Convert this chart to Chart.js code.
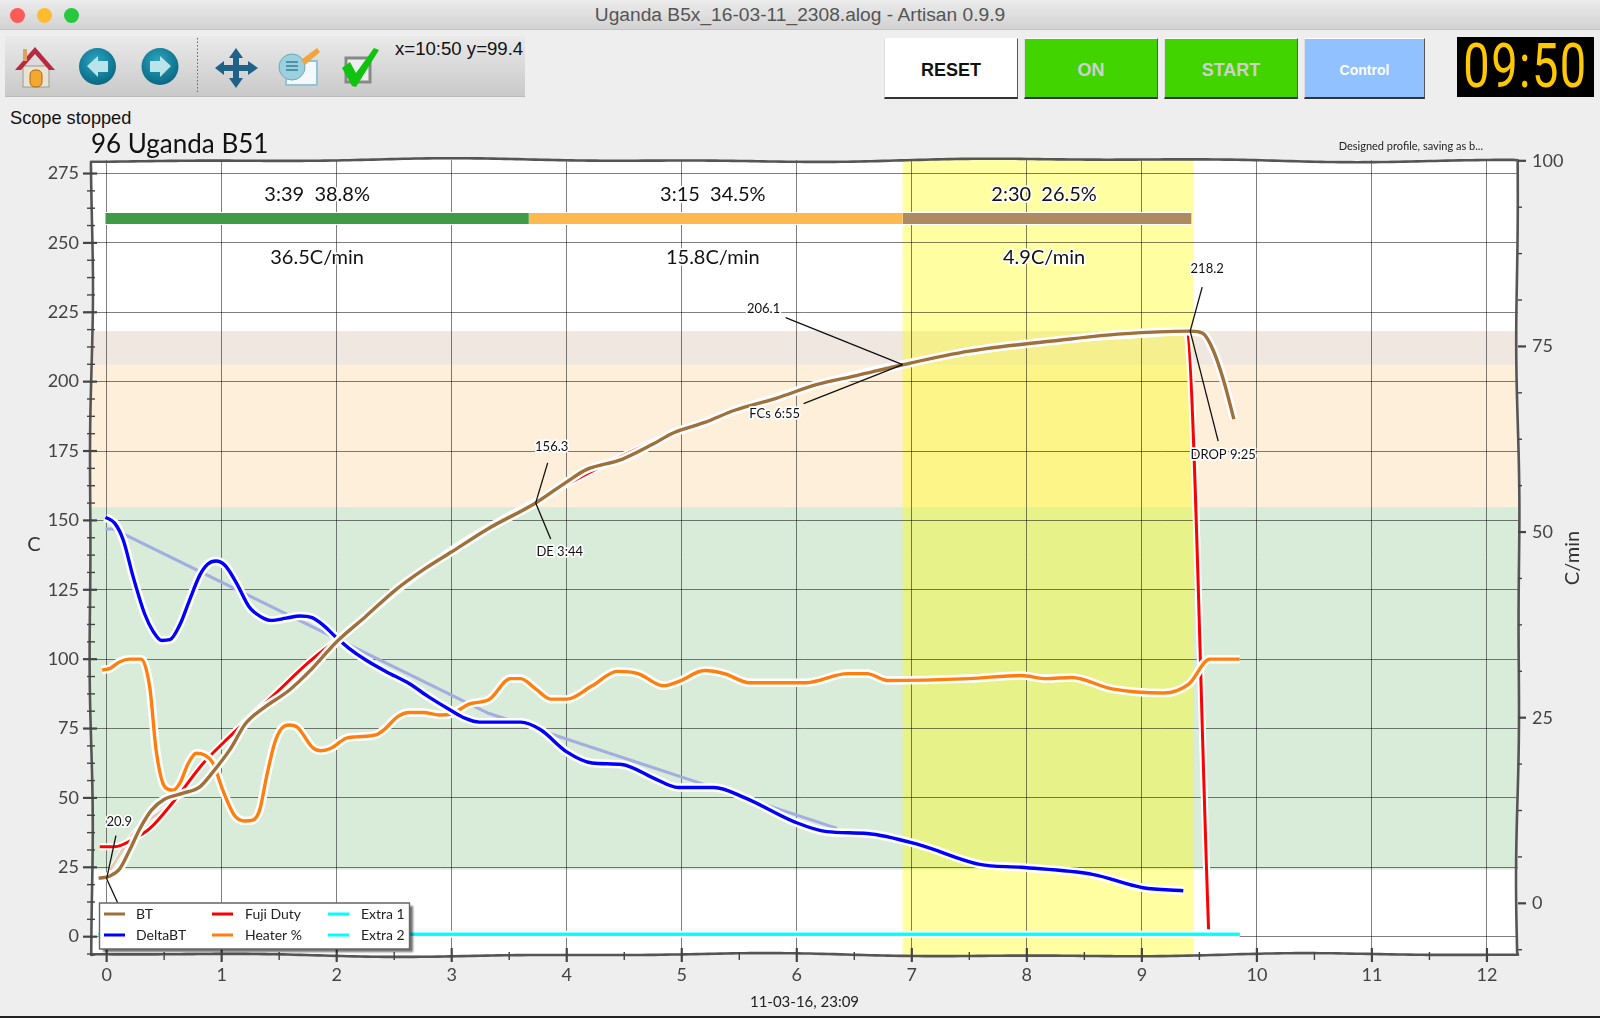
<!DOCTYPE html>
<html><head><meta charset="utf-8">
<style>
html,body{margin:0;padding:0;background:#eeeeee;width:1600px;height:1018px;overflow:hidden;font-family:"Liberation Sans",Arial,sans-serif}
#c{position:absolute;left:0;top:0}
.abs{position:absolute}
#bar{left:0;top:0;width:1600px;height:29px;background:linear-gradient(#ececec,#d2d2d2);border-bottom:1px solid #c4c4c4;text-align:center;font:19.2px/30px "Liberation Sans",sans-serif;color:#555}
.dot{width:15px;height:15px;border-radius:50%;top:8px}
#tool{left:5px;top:36px;width:520px;height:60px;background:linear-gradient(#eaeaea,#c9c9c9);border-bottom:1px solid #b9b9b9}
.btn{top:38px;height:58px;text-align:center;font:bold 18px/62px "Liberation Sans",sans-serif;border-top:1px solid #fff;border-left:1px solid #ddd;border-bottom:2px solid #333;border-right:1px solid #555;box-sizing:content-box}
#lcd{left:1457px;top:37px;width:137px;height:60px;background:#000;color:#ffc800;text-align:center;overflow:hidden}
#lcd span{display:inline-block;font:400 47px/60px "Roboto",sans-serif;letter-spacing:1.5px;transform:scale(1,1.28);transform-origin:50% 50%}
</style>
<script src="https://cdn.jsdelivr.net/npm/chart.js@4"></script>
</head><body>
<div id="bar" class="abs">Uganda B5x_16-03-11_2308.alog - Artisan 0.9.9</div>
<div class="abs dot" style="left:10px;background:#fc5b57"></div>
<div class="abs dot" style="left:37px;background:#fdbb2e"></div>
<div class="abs dot" style="left:64px;background:#27c83f"></div>
<div id="tool" class="abs"></div>
<svg class="abs" style="left:0;top:36px" width="400" height="62" viewBox="0 36 400 62">
 <defs><radialGradient id="g" cx=".45" cy=".35" r=".7"><stop offset="0" stop-color="#2ea5c0"/><stop offset="1" stop-color="#05647f"/></radialGradient></defs>
 <rect x="23" y="66" width="26" height="21" fill="#e9e3d3" stroke="#999"/><rect x="30" y="70" width="12" height="17" rx="5" fill="#f4a832" stroke="#a86b10"/>
 <path d="M15 70 L35 47 L55 70 L49 70 L35 54 L21 70Z" fill="#b62b41"/><rect x="23" y="49" width="4" height="12" fill="#e0a060"/>
 <circle cx="97.500" cy="66.500" r="18.500" fill="url(#g)"/><path d="M87 66 L98 56 L98 61 L108 61 L108 72 L98 72 L98 77Z" fill="#b9e4ec"/>
 <circle cx="160" cy="66.500" r="18.500" fill="url(#g)"/><path d="M171 66 L160 56 L160 61 L150 61 L150 72 L160 72 L160 77Z" fill="#b9e4ec"/>
 <line x1="197.500" y1="38" x2="197.500" y2="94" stroke="#666" stroke-dasharray="1.500,2"/>
 <path d="M236 48 L243 58 L239 58 L239 65 L248 65 L248 61 L258 68 L248 75 L248 71 L239 71 L239 78 L243 78 L236 88 L229 78 L233 78 L233 71 L224 71 L224 75 L215 68 L224 61 L224 65 L233 65 L233 58 L229 58Z" fill="#1f6288"/>
 <rect x="286" y="61" width="31" height="24" fill="#f4f8fb" stroke="#8cc6d8" stroke-width="2"/>
 <ellipse cx="292" cy="67" rx="13" ry="13" fill="#9bd0de" stroke="#6fa9bb"/><path d="M286 62h12M286 66h12M286 70h12" stroke="#3b7d92" stroke-width="1.500"/>
 <path d="M301 60 L317 48 L320 52 L305 65Z" fill="#f0a63c"/>
 <rect x="346" y="58" width="24" height="24" fill="#eee" stroke="#888" stroke-width="3"/>
 <path d="M342 68 L350 62 L356 73 L374 48 L379 50 L356 87 L352 86Z" fill="#0fc310"/>
</svg>
<div class="abs" style="left:395px;top:38px;font-size:18.6px;color:#111">x=10:50 y=99.4</div>
<div class="abs" style="left:10px;top:108px;font-size:18.2px;color:#111">Scope stopped</div>
<div class="abs btn" style="left:884px;width:132px;background:#fff;color:#111">RESET</div>
<div class="abs btn" style="left:1024px;width:132px;background:#41d400;color:#d0d0d0">ON</div>
<div class="abs btn" style="left:1164px;width:132px;background:#41d400;color:#d0d0d0">START</div>
<div class="abs btn" style="left:1304px;width:119px;background:#92c1ff;color:#fff;font-size:14px">Control</div>
<div id="lcd" class="abs"><span>09:50</span></div>
<div class="abs" style="left:0;top:1016px;width:1600px;height:2px;background:#222"></div>
<canvas id="c" width="1600" height="1018"></canvas>
<script>
// BT (left axis, C)
const btTime=[-0.07,0.03,0.116,0.2,0.29,0.39,0.506,0.665,0.81,0.925,1.07,1.21,1.36,1.59,1.76,2.0,2.25,2.51,2.77,3.0,3.32,3.73,4.0,4.17,4.48,4.75,4.93,5.2,5.46,5.82,6.17,6.52,6.92,7.5,8.3,8.83,9.42,9.53,9.62,9.71,9.8];
const btValues=[21,21.9,24.6,31.2,39,45.6,49.6,51.7,54,59.4,67.3,76.9,82.3,88.9,95.5,106.3,115.3,124.9,132.7,138.7,147.1,156.3,163.9,168.3,172,177.5,181.6,185.3,189.7,194,198.9,202.2,206.1,211,215,217.2,218.2,217.4,211.3,200.5,186.5];
// Delta BT (right axis, C/min)
const deltaTime=[-0.01,0.07,0.145,0.23,0.33,0.405,0.477,0.55,0.636,0.72,0.81,0.88,0.95,1.03,1.13,1.24,1.34,1.43,1.56,1.68,1.78,1.88,1.99,2.11,2.25,2.43,2.63,2.8,2.98,3.12,3.24,3.33,3.6,3.77,4.0,4.22,4.48,4.75,4.97,5.28,5.55,5.99,6.26,6.61,7.06,7.59,7.95,8.57,9.01,9.36];
const deltaValues=[52,51.2,48.9,44,39,36.6,35.4,35.5,37.5,40.8,44.2,45.7,46.1,45.5,43.1,39.9,38.6,38.1,38.4,38.7,38.5,37.5,35.9,34.3,32.8,31.2,29.6,27.8,26.1,24.9,24.4,24.4,24.4,23.4,20.4,18.9,18.7,16.9,15.6,15.6,14.2,10.9,9.65,9.4,7.9,5.25,4.85,3.9,2.1,1.7];
// Designed DeltaBT background
const deltaDesignTime=[-0.01,0.06,3.32,6.35];
const deltaDesignValues=[50.4,50.4,25.6,10.1];
// Fuji Duty (left axis) and the designed BT background under it
const dutyTime=[-0.06,0.07,0.23,0.376,0.58,0.84,1.01,1.47,1.76,2.0,3.0,3.73,4.75,6.0,6.92,8.3,9.0,9.385,9.58];
const dutyValues=[32.4,32.4,35.1,39,48.6,62.5,69.7,87.7,99,107,139.5,157,178.3,197,206.5,215,217,218,2.7];
const designBtTime=[0.03,0.25,0.58,0.84,1.01,1.47,1.76];
const designBtValues=[24,38,48.6,62.5,69.7,87.7,99];
// Heater %
const heaterTime=[-0.04,0.03,0.116,0.2,0.3,0.376,0.43,0.506,0.58,0.636,0.71,0.78,0.85,0.925,1.01,1.11,1.2,1.27,1.33,1.39,1.46,1.52,1.59,1.66,1.79,1.86,1.95,2.08,2.17,2.34,2.41,2.53,2.63,2.75,2.89,2.99,3.15,3.33,3.51,3.6,3.73,3.86,4.0,4.22,4.44,4.62,4.84,4.97,5.2,5.37,5.59,6.08,6.44,6.61,6.79,7.5,7.95,8.17,8.39,8.74,9.19,9.41,9.59,9.85];
const heaterValues=[96.1,96.7,99.1,100,100,89.5,67.3,54,52.8,55.3,62.5,66.1,65.5,62.5,52.8,43.8,41.7,42,45.6,57.6,69.7,75,76.3,75.4,68.2,67,67.9,71.5,72,72.7,74.5,79.3,80.8,80.8,79.9,80.2,83.8,85.6,93,93,89.3,85.6,85.6,90.4,95.6,94.8,90.4,91.9,95.9,94.8,91.5,91.5,94.8,94.8,92.3,93,94.1,93,93.4,89.3,87.8,91.1,100,100];
const extraTime=[-0.07,9.85];
const extra1Values=[0.9,0.9];
const extra2Values=[0.9,0.9];
// Phases
const phaseBounds=[-0.01,3.67,6.92,9.43];
const phaseBarLevel=258.8;
const phaseTop=["3:39  38.8%","3:15  34.5%","2:30  26.5%"];
const phaseRate=["36.5C/min","15.8C/min","4.9C/min"];
const phaseTextTime=[1.83,5.27,8.15];
const phaseTextLevels=[267.5,244.8];
// Background bands (left axis, C)
const bandEdges=[24.2,154.8,206.1,218.2];
const yellowSpan=[6.92,9.45];
// Event annotations
const eventNames=["CHARGE","DE","FCs","DROP"];
const eventTime=[0,3.73,6.92,9.42];
const eventTemp=[20.9,156.3,206.1,218.2];
const eventValueLabels=["20.9","156.3","206.1","218.2"];
const eventLabels=["","DE 3:44","FCs 6:55","DROP 9:25"];
const legendColumns=[["BT","DeltaBT"],["Fuji Duty","Heater %"],["Extra 1","Extra 2"]];
const xMajorTicks=[0,1,2,3,4,5,6,7,8,9,10,11,12];

const pts=(t,v)=>t.map((x,i)=>({x,y:v[i]}));
const FONT='"Lato",sans-serif';
const wob=(i,t)=>1.3*Math.sin(t/97+i*1.7)+0.7*Math.sin(t/41+i*2.3);

function line(label,t,v,color,order,axis,width,halo){
  return {label,data:pts(t,v),borderColor:color,backgroundColor:color,order,yAxisID:axis,borderWidth:width,halo,pointRadius:0,cubicInterpolationMode:'monotone',fill:false};
}
const phaseColors=['#3f9b47','#fdb94f','#ad8a5f'];
const phaseSets=[0,1,2].map(i=>({label:'Phase '+(i+1),data:[{x:phaseBounds[i],y:phaseBarLevel},{x:phaseBounds[i+1],y:phaseBarLevel}],borderColor:phaseColors[i],borderWidth:11,halo:13,pointRadius:0,order:20,yAxisID:'y'}));

const canvasPlugin={
 id:'artisan',
 beforeDraw(chart){
  const {ctx,chartArea:a,scales:{x,y}}=chart;
  ctx.save();
  ctx.fillStyle='#fff';ctx.fillRect(a.left,a.top,a.width,a.height);
  const cols=['#d9ebd9','#fdefd9','#efe7e0'];
  for(let i=0;i<3;i++){ctx.fillStyle=cols[i];
    const t=y.getPixelForValue(bandEdges[i+1]),b=y.getPixelForValue(bandEdges[i]);
    ctx.fillRect(a.left,t,a.width,b-t);}
  ctx.fillStyle='rgba(255,255,0,.37)';
  const l=x.getPixelForValue(yellowSpan[0]),r=x.getPixelForValue(yellowSpan[1]);
  ctx.fillRect(l,a.top,r-l,a.height);
  ctx.restore();
 },
 beforeDatasetDraw(chart,args){
  const ds=chart.data.datasets[args.index];
  if(!ds.halo)return;
  const el=args.meta.dataset,saved=el.options;
  el.options=Object.assign({},saved,{borderColor:ds.haloColor||'#fff',borderWidth:ds.halo});
  el.draw(chart.ctx,chart.chartArea);
  el.options=saved;
 },
 afterDatasetsDraw(chart){
  const {ctx,chartArea:a,scales:{x,y,y1}}=chart;
  ctx.save();
  const halo=(s,px,py,font,col)=>{ctx.font=font;ctx.textAlign='center';ctx.textBaseline='middle';ctx.lineJoin='round';ctx.strokeStyle='#fff';ctx.lineWidth=3.5;ctx.strokeText(s,px,py);ctx.fillStyle=col||'#111';ctx.fillText(s,px,py);};
  // phase captions
  phaseTop.forEach((s,i)=>{
    halo(s,x.getPixelForValue(phaseTextTime[i]),y.getPixelForValue(phaseTextLevels[0]),'20px '+FONT);
    halo(phaseRate[i],x.getPixelForValue(phaseTextTime[i]),y.getPixelForValue(phaseTextLevels[1]),'20px '+FONT);
  });
  // event annotations: leader offsets in pixels from each event point
  const upper=[[9.3,-43,12.6,-57],[12,-40,16,-56],[-117,-47,-139,-56],[12,-44,17,-62]];
  const lower=[[11,24,11,24],[15,36,24,49],[-99,39,-128,49],[28,110,33,124]];
  eventTime.forEach((t,i)=>{
    const px=x.getPixelForValue(t),py=y.getPixelForValue(eventTemp[i]);
    ctx.strokeStyle='#111';ctx.lineWidth=1.3;
    [upper[i],lower[i]].forEach(o=>{ctx.beginPath();ctx.moveTo(px,py);ctx.lineTo(px+o[0],py+o[1]);ctx.stroke();});
    halo(eventValueLabels[i],px+upper[i][2],py+upper[i][3],'13px '+FONT);
    if(eventLabels[i])halo(eventLabels[i],px+lower[i][2],py+lower[i][3],'13px '+FONT);
  });
  // axis frame, slightly hand drawn
  ctx.strokeStyle='#555';ctx.lineWidth=2.6;ctx.lineJoin='round';
  ctx.beginPath();
  for(let p=a.left;p<=a.right;p+=6){const w=wob(0,p);p===a.left?ctx.moveTo(p,a.top+w):ctx.lineTo(p,a.top+w);}
  for(let p=a.top;p<=a.bottom;p+=6){ctx.lineTo(a.right+wob(1,p),p);}
  for(let p=a.right;p>=a.left;p-=6){ctx.lineTo(p,a.bottom+wob(2,p));}
  for(let p=a.bottom;p>=a.top;p-=6){ctx.lineTo(a.left+wob(3,p),p);}
  ctx.closePath();ctx.stroke();
  // tick marks from the scales
  ctx.strokeStyle='#444';
  y.ticks.forEach(t=>{const p=y.getPixelForValue(t.value),m=t.value%25===0;ctx.lineWidth=m?2.2:1.4;ctx.beginPath();ctx.moveTo(a.left-(m?8:4),p);ctx.lineTo(a.left+(m?6:4),p);ctx.stroke();});
  y1.ticks.forEach(t=>{const p=y1.getPixelForValue(t.value),m=t.value%25===0;ctx.lineWidth=m?2.2:1.4;ctx.beginPath();ctx.moveTo(a.right,p);ctx.lineTo(a.right+(m?8:4),p);ctx.stroke();});
  x.ticks.forEach(t=>{const p=x.getPixelForValue(t.value),m=Number.isInteger(t.value);ctx.lineWidth=m?2.2:1.4;ctx.beginPath();ctx.moveTo(p,a.bottom-(m?7:3));ctx.lineTo(p,a.bottom+(m?7:5));ctx.stroke();});
  // loose captions
  ctx.fillStyle='#333';ctx.textAlign='center';ctx.textBaseline='middle';
  ctx.font='20px '+FONT;ctx.fillText('C',34,545);
  ctx.save();ctx.translate(1573,558);ctx.rotate(-Math.PI/2);ctx.fillText('C/min',0,0);ctx.restore();
  ctx.font='11px '+FONT;ctx.fillStyle='#222';ctx.textAlign='right';ctx.fillText('Designed profile, saving as b...',1483,146);
  // legend
  const lx=a.left+8.5,ly=903,lw=310,lh=46;
  ctx.shadowColor='rgba(0,0,0,.55)';ctx.shadowOffsetX=3;ctx.shadowOffsetY=3;ctx.shadowBlur=2;
  ctx.fillStyle='#fff';ctx.fillRect(lx,ly,lw,lh);
  ctx.shadowColor='transparent';ctx.shadowOffsetX=ctx.shadowOffsetY=ctx.shadowBlur=0;
  ctx.strokeStyle='#666';ctx.lineWidth=1.4;ctx.strokeRect(lx,ly,lw,lh);
  const sampleX=[104,212,328],labelX=[136,245,361],rows=[914,935];
  legendColumns.forEach((col,c)=>col.forEach((name,r)=>{
    const ds=chart.data.datasets.find(d=>d.label===name);
    ctx.strokeStyle=ds.borderColor;ctx.lineWidth=3;ctx.beginPath();ctx.moveTo(sampleX[c],rows[r]);ctx.lineTo(sampleX[c]+21,rows[r]);ctx.stroke();
    ctx.fillStyle='#222';ctx.font='14px '+FONT;ctx.textAlign='left';ctx.textBaseline='middle';ctx.fillText(name,labelX[c],rows[r]);
  }));
  ctx.restore();
 }
};

const deltaDesign=line('Delta background',deltaDesignTime,deltaDesignValues,'#a3aee0',8,'y1',3,0);
delete deltaDesign.cubicInterpolationMode;deltaDesign.tension=0;

new Chart(document.getElementById('c'),{
 type:'line',
 plugins:[canvasPlugin],
 data:{datasets:[
  ...phaseSets,
  line('BT background',designBtTime,designBtValues,'rgba(160,112,58,.35)',9,'y',3,5),
  deltaDesign,
  line('Extra 1',extraTime,extra1Values,'#00ffff',7,'y',3,7),
  line('Extra 2',extraTime,extra2Values,'#00ffff',6,'y',3,0),
  line('Fuji Duty',dutyTime,dutyValues,'#ff0000',5,'y',3,7),
  line('Heater %',heaterTime,heaterValues,'#ff7f0e',3.4,'y',3.4,8.5),
  line('DeltaBT',deltaTime,deltaValues,'#0000ff',2,'y1',3.4,8.5),
  line('BT',btTime,btValues,'#a0703a',1,'y',3.4,8.5)
 ]},
 options:{
  responsive:false,animation:false,
  layout:{padding:0},
  plugins:{
   legend:{display:false},tooltip:{enabled:false},
   title:{display:true,text:'96 Uganda B51',align:'start',fullSize:false,color:'#111',font:{family:FONT,size:26,weight:'normal'},padding:{top:129,bottom:0}}
  },
  scales:{
   x:{type:'linear',min:-0.136,max:12.27,position:'bottom',
      afterFit(s){s.height=63;},
      border:{display:false},
      grid:{drawTicks:false,color:c=>Number.isInteger(c.tick.value)?'rgba(0,0,0,.5)':'transparent'},
      ticks:{stepSize:0.5,includeBounds:false,autoSkip:false,maxRotation:0,padding:9,color:'#444',font:{family:FONT,size:18},
             callback:v=>xMajorTicks.includes(v)?String(v):''},
      title:{display:true,text:'11-03-16, 23:09',color:'#222',font:{family:FONT,size:15},padding:{top:3,bottom:7}}},
   y:{type:'linear',min:-6.6,max:279.8,position:'left',
      afterFit(s){s.width=91;},
      border:{display:false},
      grid:{drawTicks:false,color:c=>c.tick.value%25===0?'rgba(0,0,0,.5)':'transparent'},
      ticks:{stepSize:6.25,includeBounds:false,autoSkip:false,padding:12,color:'#444',font:{family:FONT,size:18},
             callback:v=>v%25===0?String(v):''}},
   y1:{type:'linear',min:-6.96,max:100.08,position:'right',
      afterFit(s){s.width=82;},
      border:{display:false},
      grid:{display:false,drawTicks:false},
      ticks:{stepSize:6.25,includeBounds:false,autoSkip:false,padding:14,color:'#444',font:{family:FONT,size:18},
             callback:v=>v%25===0?String(v):''}}
  }
 }
});
</script>
</body></html>
